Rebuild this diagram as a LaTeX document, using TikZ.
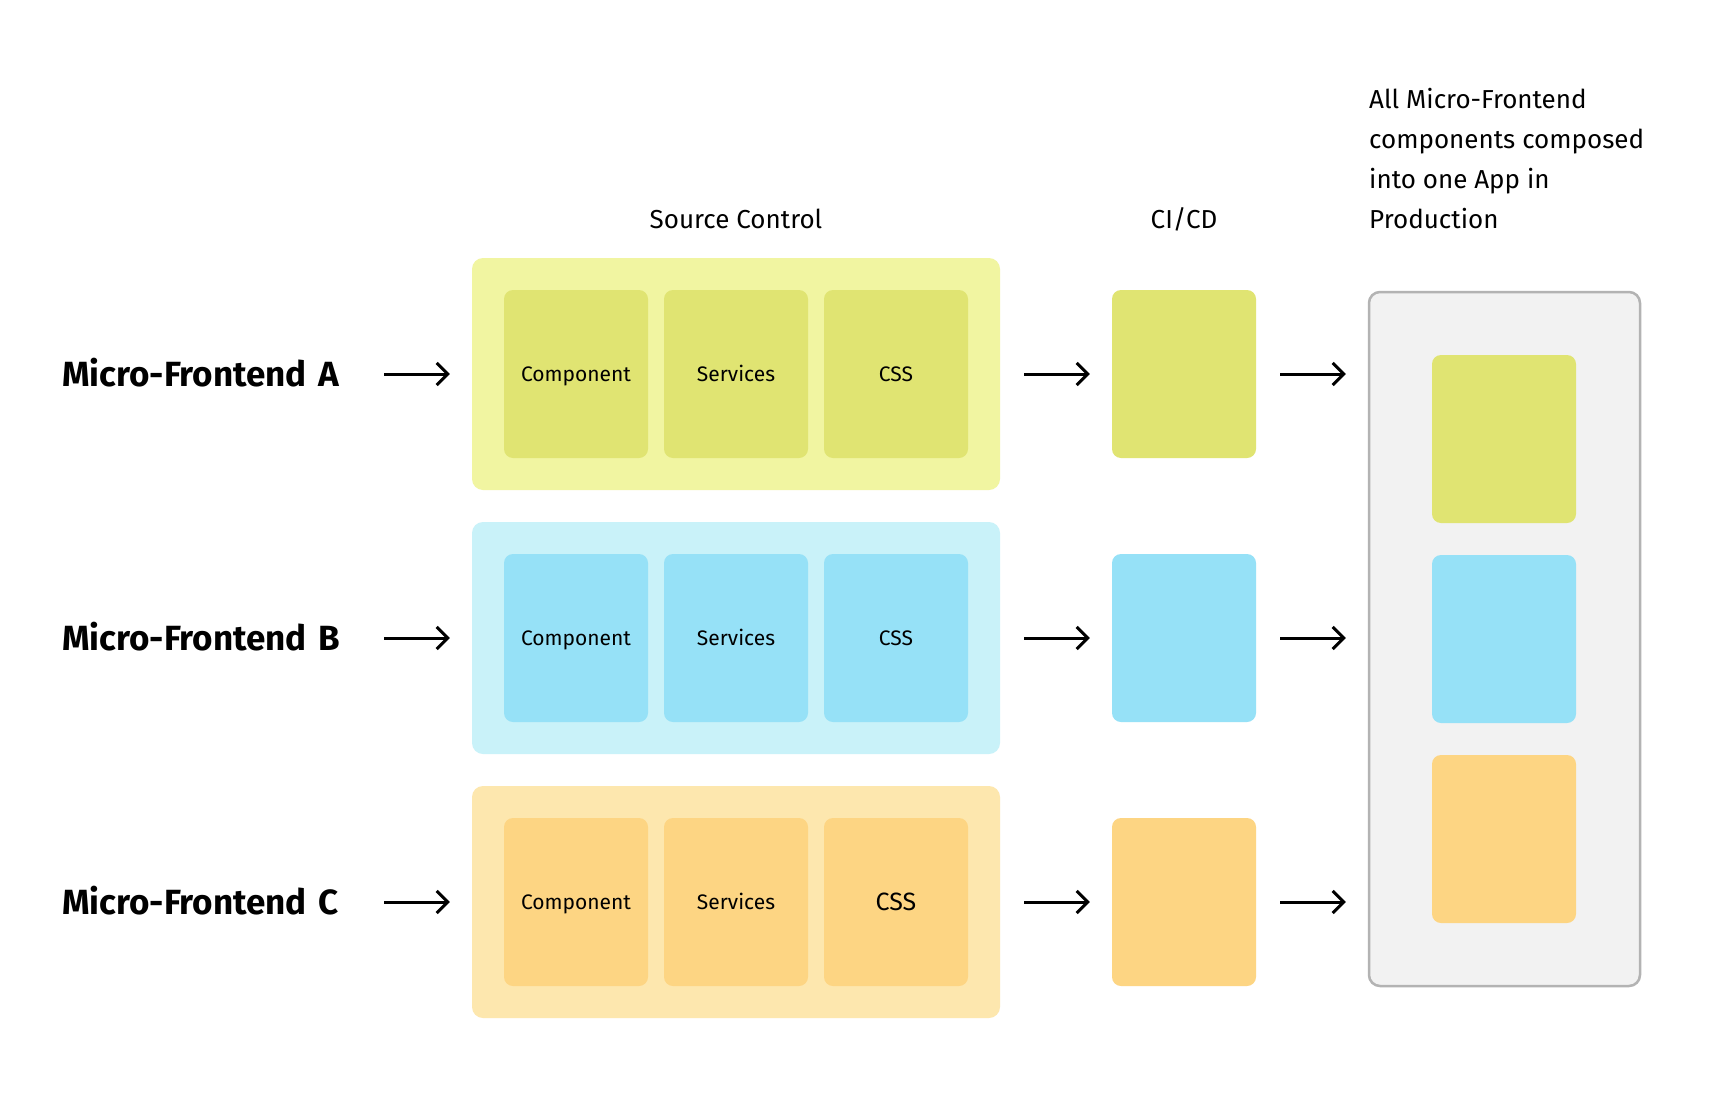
\documentclass[tikz,border=0pt]{standalone}
\usepackage{fontspec}
\setmainfont{Fira Sans}
\usetikzlibrary{arrows.meta}
\definecolor{aOut}{HTML}{F1F5A1}
\definecolor{aIn}{HTML}{E0E472}
\definecolor{bOut}{HTML}{C9F2F9}
\definecolor{bIn}{HTML}{96E1F7}
\definecolor{cOut}{HTML}{FDE7AE}
\definecolor{cIn}{HTML}{FDD583}
\definecolor{prodFill}{HTML}{F2F2F2}
\definecolor{prodDraw}{HTML}{B3B3B3}
\tikzset{
  outerbox/.style={rounded corners=11pt, minimum width=528pt, minimum height=232pt, inner sep=0pt},
  innerbox/.style={rounded corners=9pt, minimum width=144pt, minimum height=168pt, inner sep=0pt,
    font=\fontsize{21}{25}\selectfont, text height=14.5pt, text depth=0pt},
  bigcss/.style={font=\fontsize{25}{30}\selectfont, text height=17.2pt},
  mflabel/.style={anchor=west, inner sep=0pt, text width=300pt, align=left,
    font=\fontsize{35}{42}\selectfont\bfseries, text height=24.1pt, text depth=0pt},
  toplabel/.style={anchor=base, inner sep=0pt, font=\fontsize{26}{40}\selectfont},
  arr/.style={line width=3pt, -{Straight Barb[length=11pt,width=22pt,line width=3pt]}},
  prodbox/.style={rounded corners=11pt, minimum width=271pt, minimum height=694pt, inner sep=0pt,
    fill=prodFill, draw=prodDraw, line width=2.5pt}
}
\begin{document}
\begin{tikzpicture}[x=1pt,y=-1pt]
\useasboundingbox[fill=white] (0,0) rectangle (1730,1100);

% top labels
\node[toplabel] (tsc) at (736,228) {Source Control};
\node[toplabel] (tci) at (1184,228) {CI/CD};
\node[anchor=base west, inner sep=0pt, align=left, font=\fontsize{26}{40}\selectfont] (tprod) at (1369,228)
  {All Micro-Frontend\\components composed\\into one App in\\Production};

% production container
\node[prodbox] (prod) at (1504.5,639) {};
\node[fill=aIn, rounded corners=9pt, minimum width=144pt, minimum height=168pt] (pa) at (1504,439) {};
\node[fill=bIn, rounded corners=9pt, minimum width=144pt, minimum height=168pt] (pb) at (1504,639) {};
\node[fill=cIn, rounded corners=9pt, minimum width=144pt, minimum height=168pt] (pc) at (1504,839) {};

% row A
\node[mflabel] (la) at (62,374) {Micro-Frontend A};
\node[outerbox, fill=aOut] (sa) at (736,374) {};
\node[innerbox, fill=aIn] (ca1) at (576,374) {Component};
\node[innerbox, fill=aIn] (ca2) at (736,374) {Services};
\node[innerbox, fill=aIn] (ca3) at (896,374) {CSS};
\node[innerbox, fill=aIn] (ia) at (1184,374) {};

% row B
\node[mflabel] (lb) at (62,638) {Micro-Frontend B};
\node[outerbox, fill=bOut] (sb) at (736,638) {};
\node[innerbox, fill=bIn] (cb1) at (576,638) {Component};
\node[innerbox, fill=bIn] (cb2) at (736,638) {Services};
\node[innerbox, fill=bIn] (cb3) at (896,638) {CSS};
\node[innerbox, fill=bIn] (ib) at (1184,638) {};

% row C
\node[mflabel] (lc) at (62,902) {Micro-Frontend C};
\node[outerbox, fill=cOut] (sc) at (736,902) {};
\node[innerbox, fill=cIn] (cc1) at (576,902) {Component};
\node[innerbox, fill=cIn] (cc2) at (736,902) {Services};
\node[innerbox, fill=cIn, bigcss] (cc3) at (896,902) {CSS};
\node[innerbox, fill=cIn] (ic) at (1184,902) {};

% arrows
\foreach \l/\s/\i in {la/sa/ia, lb/sb/ib, lc/sc/ic}{
  \draw[arr, shorten <=22pt, shorten >=22pt] (\l.east) -- (\s.west);
  \draw[arr, shorten <=24pt, shorten >=22pt] (\s.east) -- (\i.west);
  \draw[arr, shorten <=24pt, shorten >=22pt] (\i.east) -- (\i.east -| prod.west);
}
\end{tikzpicture}
\end{document}
